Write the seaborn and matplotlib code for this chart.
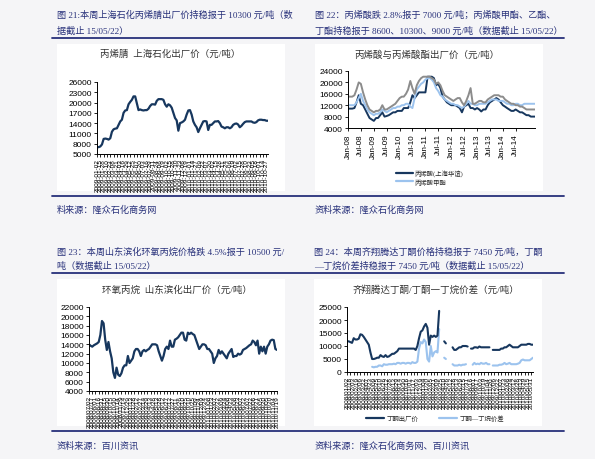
import numpy as np
import pandas as pd
import matplotlib.pyplot as plt
from matplotlib.lines import Line2D
from matplotlib.patches import Rectangle
import matplotlib.dates as mdates
import seaborn as sns

nan = np.nan

# --- data ---
# fig 21: acrylonitrile, Shanghai Petrochem ex-works price
acn_price = [7000, 7000, 7200, 7800, 9400, 9500, 9400, 9200, 9600, 11500,
             12200, 12400, 12500, 13500, 14500, 15000, 17000, 17700, 17800, 19500,
             20200, 20800, 21800, 21800, 19800, 17800, 18000, 17800, 17700, 17800,
             17800, 18200, 19000, 19500, 19500, 19400, 20500, 21000, 21000, 21000,
             20800, 19500, 18800, 19500, 19200, 18500, 17000, 15500, 14800, 11800,
             14000, 14200, 14500, 15000, 16500, 17700, 17800, 16500, 14500, 13500,
             12800, 11400, 12500, 13500, 14500, 14600, 14500, 12000, 13500, 13500,
             14000, 14500, 14500, 14600, 14000, 13000, 12800, 12500, 12800, 12800,
             12500, 12800, 13500, 13800, 13900, 13600, 12800, 13200, 13800, 14300,
             14500, 14500, 14500, 14500, 14200, 14100, 14300, 14800, 15000, 15000,
             14900, 14900, 14700, 14700]

# fig 22: acrylic acid and esters, monthly Jan-08 .. Apr-15
aa_price = [10800, 10800, 10800, 11000, 13000, 15500, 12500, 12000, 10500, 9000, 7500, 7000,
            6500, 7500, 7500, 8500, 9500, 8000, 8200, 8500, 9000, 9500, 9500, 10000,
            10000, 10000, 11000, 11000, 11000, 13000, 15500, 14500, 15500, 16500, 16500, 16500,
            16500, 22000, 22000, 22000, 21500, 19000, 19500, 18000, 15000, 14000, 13000, 12500,
            12000, 12000, 12000, 11500, 11000, 9500, 11500, 12000, 12500, 11000, 11000, 10500,
            11000, 10500, 9800, 10500, 10500, 12000, 13000, 13500, 14000, 14500, 14000, 13000,
            12000, 11500, 11000, 10500, 10000, 10000, 10500, 10000, 9500, 9500, 9000, 8500,
            8500, 8000, 8000, 8000]
ma_price = [12000, 12000, 12000, 12000, 13000, 14500, 16000, 13500, 12000, 10500, 9500, 9000,
            8500, 9000, 9000, 9500, 10500, 10000, 9500, 10000, 10500, 11000, 11000, 11500,
            11500, 12000, 12000, 12500, 12500, 11500, 11000, 14500, 17500, 18500, 19500, 20000,
            21000, 21500, 21500, 21000, 20000, 18000, 17000, 15500, 15000, 14000, 13500, 13000,
            12500, 12500, 12000, 12000, 11500, 11000, 11500, 12500, 13500, 12500, 12500, 12000,
            12000, 12500, 12500, 12500, 12500, 13000, 13500, 14000, 14000, 14000, 13500, 13500,
            13500, 13000, 12500, 12500, 12000, 12000, 12500, 12500, 12000, 12000, 12500, 12500,
            12500, 12500, 12500, 12500]
ba_price = [15000, 15000, 15000, 15500, 17500, 20000, 19500, 16500, 14000, 12000, 10500, 10000,
            9500, 10000, 10000, 10500, 12000, 10500, 10500, 11000, 11500, 12000, 12500, 13500,
            14500, 15000, 15000, 16000, 17500, 20500, 18000, 16000, 19000, 20500, 21500, 22000,
            22000, 22000, 22000, 21500, 21000, 19500, 20000, 19000, 17000, 15500, 15000, 14500,
            14000, 13500, 14000, 14500, 14500, 13000, 12000, 13500, 15500, 18000, 12500, 12500,
            13000, 13500, 13500, 13000, 13000, 14000, 14500, 15000, 15500, 15500, 15500, 15000,
            15000, 14000, 13500, 13000, 12500, 12500, 12000, 12000, 11500, 11500, 11000, 10500,
            10500, 10500, 10500, 10500]
aa_labels = ['丙烯酸(上海华谊)', '丙烯酸甲酯', '丙烯酸丁酯']

# fig 23: propylene oxide, Shandong Binhua
po_price = [14000, 13700, 13500, 13800, 14000, 14200, 14500, 16000, 19000, 18500,
            15000, 12800, 14500, 12500, 11000, 8000, 6800, 9000, 7500, 7200,
            7800, 9000, 9500, 9500, 11500, 10000, 10500, 11000, 12500, 13000,
            13000, 12500, 11500, 12500, 12800, 12500, 12800, 13000, 13500, 14000,
            14000, 14000, 13800, 12500, 11500, 10500, 11500, 13000, 13500, 13000,
            14800, 13500, 13500, 15000, 15200, 15500, 16000, 16500, 16500, 15000,
            14800, 16500, 16200, 16500, 16200, 16000, 15000, 14000, 13000, 13500,
            14000, 14000, 13800, 13000, 13000, 12500, 12000, 10000, 11000, 11500,
            12800, 12000, 12500, 12000, 11500, 11000, 12000, 12500, 13000, 11300,
            11500, 11500, 12000, 11800, 12000, 12800, 13000, 13200, 13500, 13800,
            14000, 14800, 14500, 13800, 14800, 12000, 13500, 12500, 13500, 12000,
            13500, 14000, 14800, 15000, 14900, 13000, 12800]

# fig 24: MEK price and MEK-butane spread (gaps = no data)
mek_price = [11800, 11800, 11500, 11200, 13000, 12500, 12500, 12800, 14500, 14300,
             13500, 12500, 11500, 10500, 7500, 5000, 5000, 5200, 5500, 5500,
             6500, 6000, 5800, 6500, 5800, 6000, 6500, 7000, 7000, 7500,
             8000, 9000, 9000, 9000, 9000, 9000, 9000, 9000, 9000, 9000,
             9000, 8500, 10000, 13000, 15500, 16000, 17500, 18500, 17000, 10500,
             14000, 13500, 14000, 13500, 14000, 23500, nan, nan, 11800, 11000,
             nan, 11500, nan, 9500, 8500, 8500, 9000, 9500, 9500, 10000,
             10000, 10000, 9800, nan, 9000, 9000, 9500, 9500, 9300, 9800,
             9500, 9500, 9500, 9500, 9500, 9500, nan, 8500, 8500, 8500,
             8500, 8500, 9000, 9000, 9500, 9500, 10000, 10500, 10000, 9500,
             9500, 9500, 9500, 10000, 10500, 10500, 10500, 10500, 10800, 10800,
             10500, 10500]
mek_spread = [nan, nan, nan, nan, nan, nan, nan, nan, nan, nan,
              nan, nan, nan, nan, nan, 2000, 1800, 2000, 2000, 2500,
              2500, 2200, 3000, 2800, 2800, 3000, 3000, 3000, 3200, 3000,
              3500, 3500, 3200, 3500, 3500, 3200, 3500, 3500, 3200, 3800,
              3500, 3500, 4000, 9000, 11500, 11000, 12500, 11500, 5000, 4000,
              10000, 6000, 7500, 8000, 7500, 16500, nan, nan, 5500, 5000,
              nan, 4000, nan, 3000, 2500, 2500, 2500, 2800, 2500, 2800,
              2800, 3000, nan, nan, nan, 2800, 3500, 3000, 3200, 3000,
              3500, 3200, 3200, 3500, 3000, 3000, nan, 2500, 2500, 2500,
              2500, 2800, 2800, 3000, 3500, 3000, 3200, 3500, 3000, 3000,
              3000, 3000, 3200, 3500, 4500, 4800, 4500, 4500, 4500, 4500,
              5000, 5500]
mek_labels = ['丁酮出厂价', '丁酮—丁烷价差']

DARK = '#17375e'
LIGHT = '#9cc3ee'
GREY = '#8c8c8c'
NAVY = '#27307a'

sns.set_theme(style='white')
plt.rcParams['font.family'] = ['Liberation Sans', 'Noto Sans CJK SC', 'DejaVu Sans']
SERIF = ['Liberation Serif', 'Noto Sans CJK SC', 'DejaVu Sans']

W, H = 595, 460
fig = plt.figure(figsize=(5.95, 4.6), dpi=100)
fig.patch.set_facecolor('#f5f5f7')


def rect(x0, y0, x1, y1):
    return [x0 / W, 1 - y1 / H, (x1 - x0) / W, (y1 - y0) / H]


def hline(x0, x1, y, lw=1.3):
    fig.add_artist(Line2D([x0 / W, x1 / W], [1 - y / H, 1 - y / H],
                          transform=fig.transFigure, color=NAVY, lw=lw))


def text(x, y, s, **kw):
    fig.text(x / W, 1 - y / H, s, va='center', **kw)


def panel(x0, y0, x1, y1, plot_box, title, tx, ty):
    fig.add_artist(Rectangle((x0 / W, 1 - y1 / H), (x1 - x0) / W, (y1 - y0) / H,
                             transform=fig.transFigure, fc='white', ec='none', zorder=-1))
    ax = fig.add_axes(rect(*plot_box))
    ax.set_facecolor('none')
    for s in ['top', 'right']:
        ax.spines[s].set_visible(False)
    for s in ['left', 'bottom']:
        ax.spines[s].set_color('black')
        ax.spines[s].set_linewidth(0.7)
    ax.tick_params(axis='both', direction='out', length=2.2, width=0.6,
                   labelsize=6, pad=1.5, colors='black', bottom=True, left=True)
    text(tx, ty, title, ha='center', fontsize=6.8, color='#333333', family=SERIF)
    return ax


def dense_dates(ax, n, start, freq, fmt, step=2):
    # the source charts have crowded, overlapping date labels
    idx = list(range(0, n, step))
    lab = pd.date_range(start, periods=len(idx), freq=freq).strftime(fmt)
    ax.set_xticks(idx)
    ax.set_xticklabels(lab, rotation=90, fontsize=4.6)
    ax.tick_params(axis='x', length=1.8, pad=1)
    ax.set_xlim(0, n - 1)


# --- headers, rules and sources ---
hdr = dict(fontsize=6.6, color=NAVY, family=SERIF)
text(57, 15, '图 21:本周上海石化丙烯腈出厂价持稳报于 10300 元/吨（数', **hdr)
text(57, 31, '据截止 15/05/22）', **hdr)
text(315, 15, '图 22：丙烯酸跌 2.8%报于 7000 元/吨；丙烯酸甲酯、乙酯、', **hdr)
text(315, 31, '丁酯持稳报于 8600、10300、9000 元/吨（数据截止 15/05/22）', **hdr)
text(57, 252, '图 23：本周山东滨化环氧丙烷价格跌 4.5%报于 10500 元/', **hdr)
text(57, 266, '吨（数据截止 15/05/22）', **hdr)
text(314, 252, '图 24：本周齐翔腾达丁酮价格持稳报于 7450 元/吨，丁酮', **hdr)
text(314, 266, '—丁烷价差持稳报于 7450 元/吨（数据截止 15/05/22）', **hdr)

hline(52, 564, 39)
hline(52, 564, 197)
hline(52, 564, 274)
hline(52, 564, 432)

src = dict(fontsize=6.6, color=NAVY)
text(57, 210, '料来源：隆众石化商务网', **src)
text(315, 210, '资料来源：隆众石化商务网', **src)
text(57, 446, '资料来源：百川资讯', **src)
text(315, 446, '资料来源：隆众石化商务网、百川资讯', **src)

# --- fig 21 ---
ax1 = panel(57, 45, 285, 192, (97, 83, 268, 155), '丙烯腈  上海石化出厂价（元/吨）', 170, 54)
d1 = pd.DataFrame({'i': range(len(acn_price)), 'price': acn_price})
sns.lineplot(data=d1, x='i', y='price', ax=ax1, color=DARK, lw=1.6)
ax1.set_ylim(5000, 26000)
ax1.set_yticks(range(5000, 26001, 3000))
dense_dates(ax1, len(acn_price), '2009-01-02', '13D', '%Y-%m-%d')
ax1.set_xlabel('')
ax1.set_ylabel('')

# --- fig 22 ---
ax2 = panel(315, 45, 543, 192, (348, 72, 535, 129), '丙烯酸与丙烯酸酯出厂价（元/吨）', 427, 55)
months = pd.date_range('2008-01-01', periods=len(aa_price), freq='MS')
d2 = pd.DataFrame({'date': months, aa_labels[0]: aa_price,
                   aa_labels[1]: ma_price, aa_labels[2]: ba_price})
for name, c in zip(aa_labels, [DARK, LIGHT, GREY]):
    sns.lineplot(data=d2, x='date', y=name, ax=ax2, color=c, lw=1.4)
ax2.set_ylim(4000, 24000)
ax2.set_yticks(range(4000, 24001, 4000))
ax2.set_xlim(months[0], months[-1])
ax2.set_xticks(pd.date_range('2008-01-01', '2014-07-01', freq='6MS'))
ax2.xaxis.set_major_formatter(mdates.DateFormatter('%b-%y'))
ax2.tick_params(axis='x', labelrotation=90, labelsize=5.8)
ax2.set_xlabel('')
ax2.set_ylabel('')
h2 = [Line2D([], [], color=c, lw=1.6) for c in [DARK, LIGHT]]
ax2.legend(h2, aa_labels[:2], loc='upper left', bbox_to_anchor=(393 / W, 1 - 167 / H),
           bbox_transform=fig.transFigure, frameon=False,
           handlelength=2.6, handletextpad=0.3, labelspacing=0.35, borderpad=0,
           prop={'family': SERIF, 'size': 4.6})

# --- fig 23 ---
ax3 = panel(57, 280, 285, 427, (89, 308, 277, 392), '环氧丙烷  山东滨化出厂价（元/吨）', 177, 290)
d3 = pd.DataFrame({'i': range(len(po_price)), 'price': po_price})
sns.lineplot(data=d3, x='i', y='price', ax=ax3, color=DARK, lw=1.6)
ax3.set_ylim(4000, 22000)
ax3.set_yticks(range(4000, 22001, 2000))
dense_dates(ax3, len(po_price), '2008-07-02', '15D', '%Y/%m/%d')
ax3.set_xlabel('')
ax3.set_ylabel('')

# --- fig 24 ---
ax4 = panel(314, 280, 542, 427, (347, 308, 533, 373), '齐翔腾达丁酮/丁酮一丁烷价差（元/吨）', 436, 290)
d4 = pd.DataFrame({'i': range(len(mek_price)), 'price': mek_price, 'spread': mek_spread})
for col, c in [('spread', LIGHT), ('price', DARK)]:
    seg = d4[col].isna().cumsum()
    sub = d4.assign(seg=seg).dropna(subset=[col])
    sns.lineplot(data=sub, x='i', y=col, units='seg', estimator=None,
                 ax=ax4, color=c, lw=1.5)
ax4.set_ylim(0, 25000)
ax4.set_yticks(range(0, 25001, 5000))
dense_dates(ax4, len(mek_price), '2008-01-02', '16D', '%Y/%m/%d')
ax4.set_xlabel('')
ax4.set_ylabel('')
h4 = [Line2D([], [], color=c, lw=1.6) for c in [DARK, LIGHT]]
ax4.legend(h4, mek_labels, loc='center left', bbox_to_anchor=(363 / W, 1 - 419 / H),
           bbox_transform=fig.transFigure, frameon=False, ncol=2,
           handlelength=2.8, handletextpad=0.4, columnspacing=3.2, borderpad=0,
           prop={'family': SERIF, 'size': 4.6})

fig.savefig('out.png', dpi=100, facecolor=fig.get_facecolor())
